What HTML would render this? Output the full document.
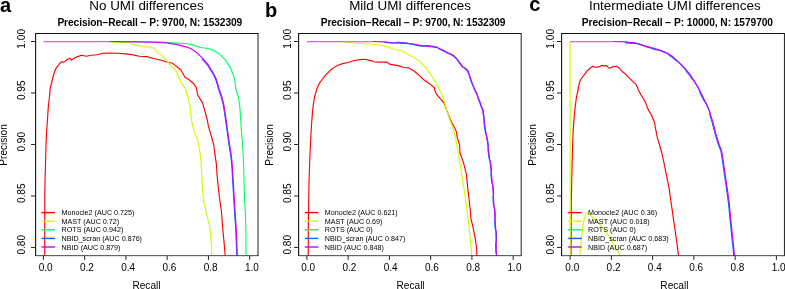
<!DOCTYPE html><html><head><meta charset="utf-8"><title>Precision-Recall</title><style>html,body{margin:0;padding:0;background:#fff}svg{display:block}</style></head><body><svg width="785" height="289" viewBox="0 0 785 289" font-family="'Liberation Sans', Arial, sans-serif" fill="#000">
<rect width="785" height="289" fill="#fff"/>
<g>
<clipPath id="cp0"><rect x="35.6" y="33.5" width="222.40" height="222.16"/></clipPath>
<g clip-path="url(#cp0)" fill="none" stroke-width="1.15" stroke-linejoin="round">
<polyline points="44.7,256.0 44.8,192.0 45.2,174.0 45.7,157.0 46.0,145.6 46.5,132.8 47.4,121.0 47.8,114.4 48.4,105.5 49.7,95.2 50.1,89.0 52.4,79.5 54.4,71.8 56.3,67.9 59.2,64.0 61.7,61.7 64.1,62.1 67.0,59.7 69.9,58.2 71.4,60.1 73.8,58.6 77.6,56.6 81.5,55.3 86.4,56.3 91.2,55.3 97.0,54.7 102.8,53.3 109.6,53.0 117.8,53.3 125.5,53.9 133.3,54.9 139.1,56.3 146.8,56.6 154.6,58.8 162.3,60.5 168.1,62.5 172.0,63.0 175.9,65.9 180.7,69.8 183.6,74.7 185.0,77.2 188.9,79.5 193.7,83.8 196.2,87.3 196.6,89.0 197.6,94.8 202.4,102.6 205.3,112.3 207.3,120.0 208.3,125.8 211.2,135.5 213.7,145.0 215.0,154.7 216.4,164.4 217.0,174.1 218.3,187.6 219.9,201.0 221.4,210.7 222.4,224.3 223.8,239.8 225.3,256.2" stroke="#ff0000"/>
<polyline points="43.5,41.5 108.0,41.5 114.0,42.4 129.4,42.3 133.3,44.6 139.1,45.6 144.9,47.0 150.7,47.0 154.6,48.5 157.5,52.4 162.3,55.9 166.2,60.1 170.1,65.0 175.9,70.8 178.8,77.6 181.7,83.4 185.0,87.7 185.4,89.0 187.9,96.8 189.8,104.5 190.8,114.2 191.8,121.9 193.7,129.7 196.6,137.4 198.6,145.0 200.1,152.8 201.1,162.4 201.7,174.1 202.4,187.6 203.6,201.0 206.3,212.6 209.2,224.3 210.8,235.9 211.6,247.5 211.6,256.2" stroke="#ccff00"/>
<polyline points="43.5,41.5 110.0,41.5 158.4,41.9 172.0,42.7 185.0,43.5 192.8,44.6 200.5,47.5 208.3,48.5 214.1,50.4 219.9,54.3 225.7,60.1 230.5,67.9 233.4,74.7 235.0,81.4 235.8,89.0 238.3,96.8 239.8,106.4 240.6,118.1 241.2,127.8 242.0,137.4 242.6,145.0 243.3,156.6 243.7,168.3 244.1,183.8 244.7,201.0 245.5,216.5 245.9,232.0 246.0,256.2" stroke="#00ff66"/>
<polyline points="201.9,58.6 207.8,65.4 212.6,73.1 215.5,78.9 217.4,84.8 218.6,89.4 221.3,97.2 223.3,104.9 224.8,114.6 226.2,124.3 227.5,134.0 229.1,145.4 231.0,157.0 232.0,168.7 232.9,184.2 233.9,201.4 234.9,216.9 235.9,232.4 236.8,256.6" stroke="#0066ff"/>
<polyline points="43.5,41.5 110.0,41.5" stroke="#df61ff" stroke-width="1.25"/>
<polyline points="110.0,41.5 139.1,41.9 154.6,42.3 168.1,43.1 177.8,44.6 185.0,46.6 190.8,48.5 196.6,52.4 202.4,58.2 208.3,65.0 213.1,72.7 216.0,78.5 217.9,84.4 219.1,89.0 221.8,96.8 223.8,104.5 225.3,114.2 226.7,123.9 228.0,133.6 229.6,145.0 231.5,156.6 232.5,168.3 233.4,183.8 234.4,201.0 235.4,216.5 236.4,232.0 237.3,256.2" stroke="#cc00ff"/>
</g>
<line x1="35.050000000000004" y1="33.5" x2="258.5" y2="33.5" stroke="#111" stroke-width="1.1"/>
<line x1="35.6" y1="33.5" x2="35.6" y2="256.06" stroke="#111" stroke-width="1.1"/>
<line x1="258.0" y1="33.5" x2="258.0" y2="256.06" stroke="#2a2a2a" stroke-width="1.05"/>
<line x1="35.6" y1="255.66" x2="258.5" y2="255.66" stroke="#333" stroke-width="0.9"/>
<line x1="43.40" y1="255.66" x2="43.40" y2="259.9" stroke="#222" stroke-width="1"/>
<text x="45.60" y="271.2" font-size="10.0" text-anchor="middle">0.0</text>
<line x1="84.66" y1="255.66" x2="84.66" y2="259.9" stroke="#222" stroke-width="1"/>
<text x="86.86" y="271.2" font-size="10.0" text-anchor="middle">0.2</text>
<line x1="125.92" y1="255.66" x2="125.92" y2="259.9" stroke="#222" stroke-width="1"/>
<text x="128.12" y="271.2" font-size="10.0" text-anchor="middle">0.4</text>
<line x1="167.18" y1="255.66" x2="167.18" y2="259.9" stroke="#222" stroke-width="1"/>
<text x="169.38" y="271.2" font-size="10.0" text-anchor="middle">0.6</text>
<line x1="208.44" y1="255.66" x2="208.44" y2="259.9" stroke="#222" stroke-width="1"/>
<text x="210.64" y="271.2" font-size="10.0" text-anchor="middle">0.8</text>
<line x1="249.70" y1="255.66" x2="249.70" y2="259.9" stroke="#222" stroke-width="1"/>
<text x="251.90" y="271.2" font-size="10.0" text-anchor="middle">1.0</text>
<line x1="35.6" y1="247.45" x2="31.00" y2="247.45" stroke="#222" stroke-width="1"/>
<text transform="translate(25.30,244.75) rotate(-90)" font-size="10.1" text-anchor="middle">0.80</text>
<line x1="35.6" y1="195.96" x2="31.00" y2="195.96" stroke="#222" stroke-width="1"/>
<text transform="translate(25.30,193.26) rotate(-90)" font-size="10.1" text-anchor="middle">0.85</text>
<line x1="35.6" y1="144.47" x2="31.00" y2="144.47" stroke="#222" stroke-width="1"/>
<text transform="translate(25.30,141.77) rotate(-90)" font-size="10.1" text-anchor="middle">0.90</text>
<line x1="35.6" y1="92.99" x2="31.00" y2="92.99" stroke="#222" stroke-width="1"/>
<text transform="translate(25.30,90.29) rotate(-90)" font-size="10.1" text-anchor="middle">0.95</text>
<line x1="35.6" y1="41.50" x2="31.00" y2="41.50" stroke="#222" stroke-width="1"/>
<text transform="translate(25.30,38.80) rotate(-90)" font-size="10.1" text-anchor="middle">1.00</text>
<text x="146.50" y="289.3" font-size="10.1" text-anchor="middle">Recall</text>
<text transform="translate(7.30,144.95) rotate(-90)" font-size="10.1" text-anchor="middle">Precision</text>
<text x="146.50" y="10.3" font-size="13.4" text-anchor="middle">No UMI differences</text>
<text x="149.80" y="25.7" font-size="10.2" font-weight="bold" text-anchor="middle" textLength="184.8" lengthAdjust="spacing">Precision−Recall − P: 9700, N: 1532309</text>
<text x="0.0" y="11.6" font-size="20" font-weight="bold">a</text>
<line x1="41.50" y1="212.60" x2="55.10" y2="212.60" stroke="#ff0000" stroke-width="1.4"/>
<text x="61.50" y="215.10" font-size="7.18">Monocle2 (AUC 0.725)</text>
<line x1="41.50" y1="221.20" x2="55.10" y2="221.20" stroke="#ccff00" stroke-width="1.4"/>
<text x="61.50" y="223.70" font-size="7.18">MAST (AUC 0.72)</text>
<line x1="41.50" y1="229.80" x2="55.10" y2="229.80" stroke="#00ff66" stroke-width="1.4"/>
<text x="61.50" y="232.30" font-size="7.18">ROTS (AUC 0.942)</text>
<line x1="41.50" y1="238.40" x2="55.10" y2="238.40" stroke="#0066ff" stroke-width="1.4"/>
<text x="61.50" y="240.90" font-size="7.18">NBID_scran (AUC 0.876)</text>
<line x1="41.50" y1="247.00" x2="55.10" y2="247.00" stroke="#cc00ff" stroke-width="1.4"/>
<text x="61.50" y="249.50" font-size="7.18">NBID (AUC 0.879)</text>
</g>
<g>
<clipPath id="cp1"><rect x="298.6" y="33.5" width="222.60" height="222.16"/></clipPath>
<g clip-path="url(#cp1)" fill="none" stroke-width="1.15" stroke-linejoin="round">
<polyline points="308.2,256.0 308.3,230.0 308.7,201.0 309.0,183.8 309.6,164.4 310.4,145.0 311.2,129.7 312.0,118.1 313.1,106.4 314.5,96.8 316.8,89.0 319.3,83.4 322.2,79.5 325.1,75.6 328.0,72.7 330.9,69.8 334.8,66.9 338.7,65.0 343.5,63.4 348.4,62.5 354.2,60.5 360.0,59.6 364.9,59.2 368.7,60.1 373.0,61.1 373.0,61.7 378.8,62.1 386.6,62.1 390.4,64.4 398.2,65.6 404.0,67.5 408.9,67.9 413.7,70.8 418.5,74.7 423.4,79.5 429.2,83.4 435.0,88.2 434.4,89.0 436.3,93.8 440.2,98.7 444.1,103.0 446.0,108.4 448.9,116.1 451.8,122.9 454.7,127.8 456.7,132.6 457.2,137.4 459.6,145.0 460.0,152.8 463.4,162.4 466.4,174.1 467.7,187.6 469.3,201.0 470.3,210.7 470.9,218.4 473.2,228.1 475.5,239.8 476.7,249.4 476.7,256.2" stroke="#ff0000"/>
<polyline points="306.9,41.5 342.6,41.7 352.3,42.7 363.9,43.7 373.0,44.2 380.8,45.2 388.5,47.0 394.3,49.5 402.1,50.8 407.9,54.3 413.7,57.2 419.5,61.1 425.3,66.9 430.2,73.7 435.0,81.4 438.9,88.2 439.2,89.0 442.1,94.8 444.5,102.6 447.0,111.3 449.9,120.0 452.8,127.8 454.7,134.5 456.1,140.4 456.7,145.0 458.6,154.7 460.5,166.3 462.5,179.9 464.4,191.5 465.8,201.0 467.4,212.6 468.9,226.2 470.3,239.8 471.3,249.4 471.6,256.2" stroke="#ccff00"/>
<polyline points="384.6,42.4 388.5,42.8 392.3,43.2 397.2,42.4 402.1,42.6 407.0,43.0 411.7,44.3 416.5,45.2 421.4,46.1 426.3,45.6 431.2,46.1 437.1,47.1 439.7,49.3 442.5,50.5 447.8,53.2 451.1,54.1 454.1,55.9 456.6,58.4 458.3,61.4 460.2,64.0 462.2,66.7 465.3,68.2 467.8,70.5 469.2,74.0 469.8,77.8 471.1,81.1 472.3,84.5 474.6,88.9 476.0,91.7 477.4,94.6 478.0,98.4 479.5,101.8 480.7,105.6 482.9,109.2 483.6,113.6 484.2,118.0 484.0,123.0 484.7,127.8 485.4,132.7 487.1,137.4 487.7,141.2 488.3,144.9 488.0,149.9 488.6,154.8 489.1,158.6 490.6,162.4 491.1,166.3 491.5,170.1 490.9,174.1 491.3,178.0 491.7,181.9 493.0,185.7 493.4,189.5 493.7,193.4 493.0,197.2 493.2,201.0 493.5,204.9 494.8,208.7 495.1,212.6 495.3,216.5 494.6,220.4 494.9,224.3 495.1,228.2 496.3,232.0 496.4,236.0 496.5,240.1 495.7,244.1 495.8,248.2 495.9,252.2 496.9,256.2" stroke="#0066ff"/>
<polyline points="306.9,41.5 373.0,41.5" stroke="#df61ff" stroke-width="1.25"/>
<polyline points="373.0,41.5 384.6,41.9 392.4,42.7 402.1,43.1 411.8,43.9 421.4,45.6 431.1,46.6 437.0,47.5 442.8,50.1 448.0,52.8 453.8,56.3 458.7,61.1 462.5,66.3 467.4,70.8 470.3,77.6 472.8,84.4 474.2,89.0 477.0,94.8 479.9,101.6 482.4,109.3 483.8,118.1 485.2,127.8 486.7,137.4 487.9,145.0 489.1,154.7 490.6,166.3 491.8,177.9 493.0,189.6 493.7,201.0 494.9,216.5 495.9,232.0 496.4,256.2" stroke="#cc00ff"/>
</g>
<line x1="298.05" y1="33.5" x2="521.7" y2="33.5" stroke="#111" stroke-width="1.1"/>
<line x1="298.6" y1="33.5" x2="298.6" y2="256.06" stroke="#111" stroke-width="1.1"/>
<line x1="521.2" y1="33.5" x2="521.2" y2="256.06" stroke="#2a2a2a" stroke-width="1.05"/>
<line x1="298.6" y1="255.66" x2="521.7" y2="255.66" stroke="#333" stroke-width="0.9"/>
<line x1="306.90" y1="255.66" x2="306.90" y2="259.9" stroke="#222" stroke-width="1"/>
<text x="308.20" y="271.2" font-size="10.0" text-anchor="middle">0.0</text>
<line x1="348.16" y1="255.66" x2="348.16" y2="259.9" stroke="#222" stroke-width="1"/>
<text x="349.46" y="271.2" font-size="10.0" text-anchor="middle">0.2</text>
<line x1="389.42" y1="255.66" x2="389.42" y2="259.9" stroke="#222" stroke-width="1"/>
<text x="390.72" y="271.2" font-size="10.0" text-anchor="middle">0.4</text>
<line x1="430.68" y1="255.66" x2="430.68" y2="259.9" stroke="#222" stroke-width="1"/>
<text x="431.98" y="271.2" font-size="10.0" text-anchor="middle">0.6</text>
<line x1="471.94" y1="255.66" x2="471.94" y2="259.9" stroke="#222" stroke-width="1"/>
<text x="473.24" y="271.2" font-size="10.0" text-anchor="middle">0.8</text>
<line x1="513.20" y1="255.66" x2="513.20" y2="259.9" stroke="#222" stroke-width="1"/>
<text x="514.50" y="271.2" font-size="10.0" text-anchor="middle">1.0</text>
<line x1="298.6" y1="247.45" x2="294.00" y2="247.45" stroke="#222" stroke-width="1"/>
<text transform="translate(290.90,244.75) rotate(-90)" font-size="10.1" text-anchor="middle">0.80</text>
<line x1="298.6" y1="195.96" x2="294.00" y2="195.96" stroke="#222" stroke-width="1"/>
<text transform="translate(290.90,193.26) rotate(-90)" font-size="10.1" text-anchor="middle">0.85</text>
<line x1="298.6" y1="144.47" x2="294.00" y2="144.47" stroke="#222" stroke-width="1"/>
<text transform="translate(290.90,141.77) rotate(-90)" font-size="10.1" text-anchor="middle">0.90</text>
<line x1="298.6" y1="92.99" x2="294.00" y2="92.99" stroke="#222" stroke-width="1"/>
<text transform="translate(290.90,90.29) rotate(-90)" font-size="10.1" text-anchor="middle">0.95</text>
<line x1="298.6" y1="41.50" x2="294.00" y2="41.50" stroke="#222" stroke-width="1"/>
<text transform="translate(290.90,38.80) rotate(-90)" font-size="10.1" text-anchor="middle">1.00</text>
<text x="410.60" y="289.3" font-size="10.1" text-anchor="middle">Recall</text>
<text transform="translate(272.90,144.95) rotate(-90)" font-size="10.1" text-anchor="middle">Precision</text>
<text x="410.10" y="10.3" font-size="13.4" text-anchor="middle">Mild UMI differences</text>
<text x="413.10" y="25.7" font-size="10.2" font-weight="bold" text-anchor="middle" textLength="184.8" lengthAdjust="spacing">Precision−Recall − P: 9700, N: 1532309</text>
<text x="264.9" y="16.5" font-size="20" font-weight="bold">b</text>
<line x1="304.80" y1="212.60" x2="318.40" y2="212.60" stroke="#ff0000" stroke-width="1.4"/>
<text x="324.80" y="215.10" font-size="7.18">Monocle2 (AUC 0.621)</text>
<line x1="304.80" y1="221.20" x2="318.40" y2="221.20" stroke="#ccff00" stroke-width="1.4"/>
<text x="324.80" y="223.70" font-size="7.18">MAST (AUC 0.69)</text>
<line x1="304.80" y1="229.80" x2="318.40" y2="229.80" stroke="#00ff66" stroke-width="1.4"/>
<text x="324.80" y="232.30" font-size="7.18">ROTS (AUC 0)</text>
<line x1="304.80" y1="238.40" x2="318.40" y2="238.40" stroke="#0066ff" stroke-width="1.4"/>
<text x="324.80" y="240.90" font-size="7.18">NBID_scran (AUC 0.847)</text>
<line x1="304.80" y1="247.00" x2="318.40" y2="247.00" stroke="#cc00ff" stroke-width="1.4"/>
<text x="324.80" y="249.50" font-size="7.18">NBID (AUC 0.848)</text>
</g>
<g>
<clipPath id="cp2"><rect x="561.6" y="33.5" width="222.85" height="222.16"/></clipPath>
<g clip-path="url(#cp2)" fill="none" stroke-width="1.15" stroke-linejoin="round">
<polyline points="571.0,256.0 571.2,230.0 571.3,201.0 571.9,174.1 572.6,145.0 573.0,133.6 573.8,121.9 575.0,108.4 576.5,96.8 578.4,89.0 578.1,89.0 579.4,82.4 581.3,78.5 584.3,74.7 587.2,70.8 590.1,68.3 593.0,66.3 595.9,67.5 598.8,66.9 601.7,65.4 604.6,65.9 606.5,65.6 609.4,68.3 612.4,66.9 616.2,66.3 619.1,67.9 622.0,71.2 625.0,73.7 628.8,77.6 632.7,81.4 636.0,84.4 637.9,88.2 637.9,89.0 639.9,92.9 642.8,97.7 645.7,102.6 647.6,108.4 651.5,115.2 654.4,121.9 655.4,127.8 657.3,137.4 659.6,145.0 662.2,154.7 664.7,166.3 667.0,177.9 669.3,189.6 670.9,201.0 672.8,214.6 674.8,228.1 676.7,241.7 678.6,256.2" stroke="#ff0000"/>
<polyline points="570.1,41.5 570.1,262.0 579.8,262.0 579.8,255.3 580.4,249.4 581.3,239.8 582.7,228.1 584.3,218.4 586.2,213.0 588.1,212.6 590.1,215.0 593.9,218.4 599.8,224.3 604.6,230.1 609.4,236.9 613.3,243.6 617.2,250.4 620.1,255.3 621.5,258.2" stroke="#ccff00"/>
<polyline points="624.9,42.7 628.6,43.1 632.2,43.5 636.0,43.2 639.8,44.4 643.7,45.7 647.4,47.3 651.3,48.3 655.1,49.6 659.2,50.1 663.1,51.6 667.0,53.1 669.5,55.5 672.3,57.3 675.2,59.9 678.6,62.1 681.5,65.0 684.4,68.0 686.7,71.8 689.6,75.1 692.0,79.0 695.0,82.5 697.0,85.8 698.9,89.1 700.2,93.2 702.1,97.1 704.1,101.0 706.6,104.5 708.1,107.9 709.5,111.3 710.2,116.4 711.2,119.3 712.1,122.2 713.1,126.0 714.1,129.9 715.1,133.8 716.3,137.6 717.4,141.4 718.6,145.3 719.8,148.2 720.9,151.0 721.7,155.8 722.4,160.6 723.1,165.1 723.7,169.7 724.4,174.2 725.0,178.7 725.7,183.2 726.3,187.7 727.0,192.2 727.6,196.7 728.2,201.1 728.6,205.0 729.0,208.8 729.4,212.7 729.8,216.6 730.2,220.5 730.6,224.3 731.0,228.2 731.3,232.1 731.7,236.0 732.1,239.8 732.6,244.0 733.0,248.1 733.4,252.2 733.9,256.3" stroke="#0066ff"/>
<polyline points="570.1,41.5 613.3,41.5" stroke="#df61ff" stroke-width="1.25"/>
<polyline points="613.3,41.5 625.0,41.9 636.0,43.1 643.8,45.6 651.5,47.5 659.3,50.1 667.0,53.0 672.8,56.6 678.6,62.1 684.4,67.9 690.3,74.7 695.1,82.4 699.0,89.0 702.9,96.8 706.7,104.5 709.6,111.3 711.0,116.1 712.9,121.9 715.8,133.6 719.3,145.0 721.6,150.8 723.2,160.5 725.1,174.1 727.1,187.6 729.0,201.0 730.9,220.4 732.9,239.8 734.6,256.2" stroke="#cc00ff"/>
</g>
<line x1="561.0500000000001" y1="33.5" x2="784.95" y2="33.5" stroke="#111" stroke-width="1.1"/>
<line x1="561.6" y1="33.5" x2="561.6" y2="256.06" stroke="#111" stroke-width="1.1"/>
<line x1="784.45" y1="33.5" x2="784.45" y2="256.06" stroke="#2a2a2a" stroke-width="1.05"/>
<line x1="561.6" y1="255.66" x2="784.95" y2="255.66" stroke="#333" stroke-width="0.9"/>
<line x1="570.10" y1="255.66" x2="570.10" y2="259.9" stroke="#222" stroke-width="1"/>
<text x="572.30" y="271.2" font-size="10.0" text-anchor="middle">0.0</text>
<line x1="611.36" y1="255.66" x2="611.36" y2="259.9" stroke="#222" stroke-width="1"/>
<text x="613.56" y="271.2" font-size="10.0" text-anchor="middle">0.2</text>
<line x1="652.62" y1="255.66" x2="652.62" y2="259.9" stroke="#222" stroke-width="1"/>
<text x="654.82" y="271.2" font-size="10.0" text-anchor="middle">0.4</text>
<line x1="693.88" y1="255.66" x2="693.88" y2="259.9" stroke="#222" stroke-width="1"/>
<text x="696.08" y="271.2" font-size="10.0" text-anchor="middle">0.6</text>
<line x1="735.14" y1="255.66" x2="735.14" y2="259.9" stroke="#222" stroke-width="1"/>
<text x="737.34" y="271.2" font-size="10.0" text-anchor="middle">0.8</text>
<line x1="776.40" y1="255.66" x2="776.40" y2="259.9" stroke="#222" stroke-width="1"/>
<text x="778.60" y="271.2" font-size="10.0" text-anchor="middle">1.0</text>
<line x1="561.6" y1="247.45" x2="557.00" y2="247.45" stroke="#222" stroke-width="1"/>
<text transform="translate(554.20,244.75) rotate(-90)" font-size="10.1" text-anchor="middle">0.80</text>
<line x1="561.6" y1="195.96" x2="557.00" y2="195.96" stroke="#222" stroke-width="1"/>
<text transform="translate(554.20,193.26) rotate(-90)" font-size="10.1" text-anchor="middle">0.85</text>
<line x1="561.6" y1="144.47" x2="557.00" y2="144.47" stroke="#222" stroke-width="1"/>
<text transform="translate(554.20,141.77) rotate(-90)" font-size="10.1" text-anchor="middle">0.90</text>
<line x1="561.6" y1="92.99" x2="557.00" y2="92.99" stroke="#222" stroke-width="1"/>
<text transform="translate(554.20,90.29) rotate(-90)" font-size="10.1" text-anchor="middle">0.95</text>
<line x1="561.6" y1="41.50" x2="557.00" y2="41.50" stroke="#222" stroke-width="1"/>
<text transform="translate(554.20,38.80) rotate(-90)" font-size="10.1" text-anchor="middle">1.00</text>
<text x="674.40" y="289.3" font-size="10.1" text-anchor="middle">Recall</text>
<text transform="translate(536.20,144.95) rotate(-90)" font-size="10.1" text-anchor="middle">Precision</text>
<text x="674.80" y="10.3" font-size="13.4" text-anchor="middle">Intermediate UMI differences</text>
<text x="677.40" y="25.7" font-size="10.2" font-weight="bold" text-anchor="middle" textLength="191.2" lengthAdjust="spacing">Precision−Recall − P: 10000, N: 1579700</text>
<text x="529.3" y="11.3" font-size="20" font-weight="bold">c</text>
<line x1="568.10" y1="212.60" x2="581.70" y2="212.60" stroke="#ff0000" stroke-width="1.4"/>
<text x="588.10" y="215.10" font-size="7.18">Monocle2 (AUC 0.36)</text>
<line x1="568.10" y1="221.20" x2="581.70" y2="221.20" stroke="#ccff00" stroke-width="1.4"/>
<text x="588.10" y="223.70" font-size="7.18">MAST (AUC 0.018)</text>
<line x1="568.10" y1="229.80" x2="581.70" y2="229.80" stroke="#00ff66" stroke-width="1.4"/>
<text x="588.10" y="232.30" font-size="7.18">ROTS (AUC 0)</text>
<line x1="568.10" y1="238.40" x2="581.70" y2="238.40" stroke="#0066ff" stroke-width="1.4"/>
<text x="588.10" y="240.90" font-size="7.18">NBID_scran (AUC 0.683)</text>
<line x1="568.10" y1="247.00" x2="581.70" y2="247.00" stroke="#cc00ff" stroke-width="1.4"/>
<text x="588.10" y="249.50" font-size="7.18">NBID (AUC 0.687)</text>
</g>
</svg></body></html>
